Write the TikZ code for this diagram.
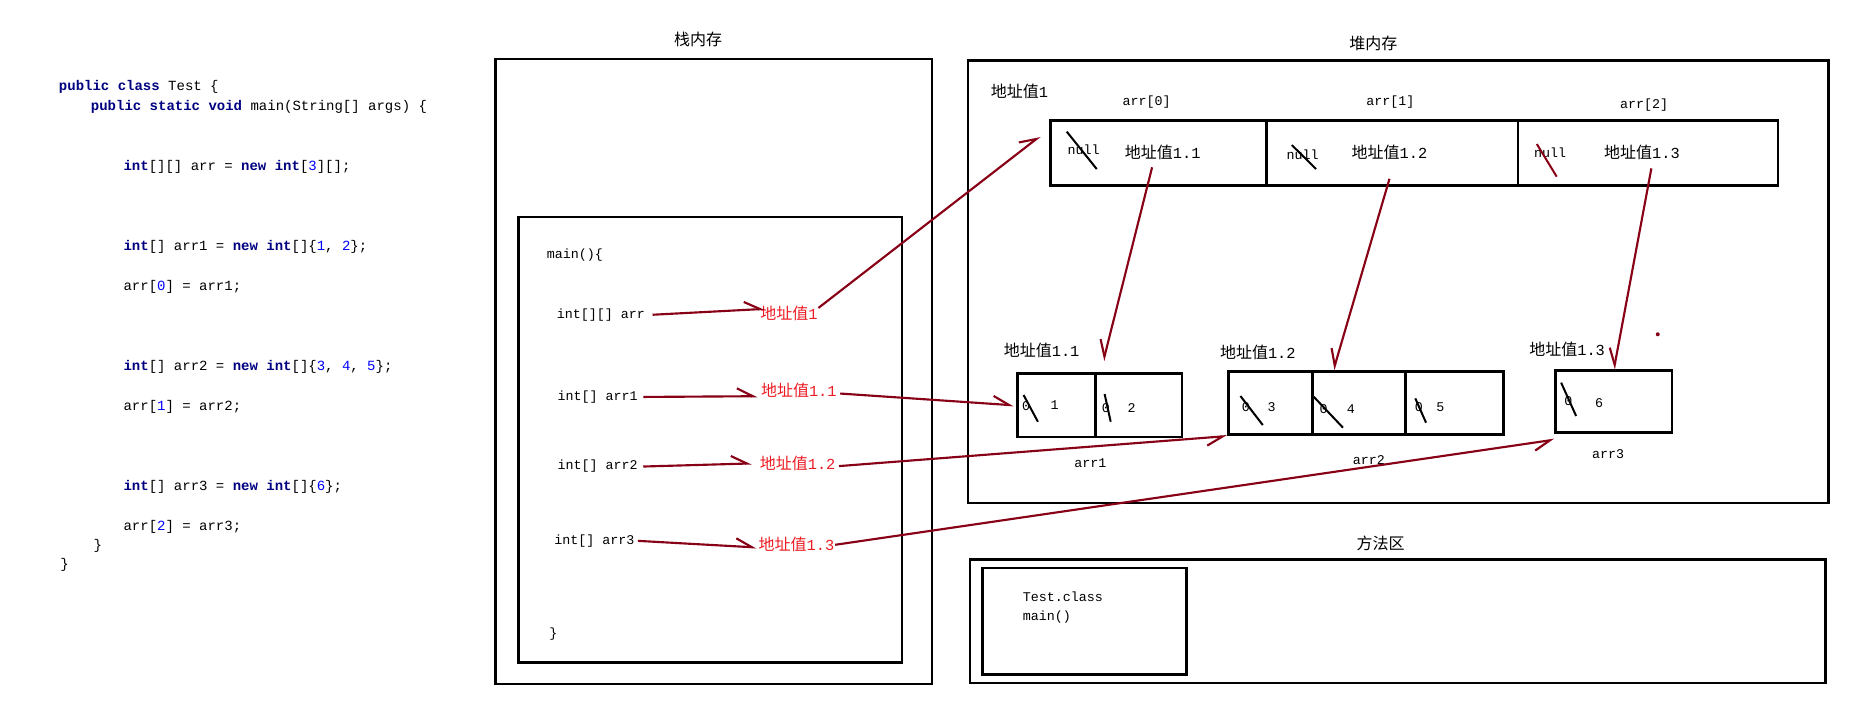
\documentclass[tikz,border=0pt]{standalone}
\usepackage{fontspec}
\setmainfont{Liberation Mono}
\newfontfamily\cjk{Noto Sans CJK SC}
\usetikzlibrary{arrows.meta}
\definecolor{PtrRed}{HTML}{880015}
\definecolor{AddrRed}{HTML}{ED1C24}
\definecolor{KwNavy}{HTML}{000080}
\definecolor{NumBlue}{HTML}{0000FF}
\newcommand{\px}{0.8935pt}
\newcommand{\kw}[1]{\textbf{\color{KwNavy}#1}}
\newcommand{\numv}[1]{{\color{NumBlue}#1}}
\newcommand{\addrval}[1]{{\cjk\fontsize{12}{14}\selectfont 地址值}{\fontsize{11.5}{14}\selectfont #1}}

\begin{document}
\begin{tikzpicture}[x=0.8935pt, y=-0.8935pt,
  cellbox/.style 2 args={draw, line width=2pt, inner sep=0pt, anchor=north west,
              minimum width=#1*\px, minimum height=#2*\px},
  code/.style={anchor=west, inner sep=0pt, font=\fontsize{10.5}{12}\selectfont},
  lbl/.style={anchor=west, inner sep=0.5pt, font=\fontsize{10}{12}\selectfont},
  addr/.style={lbl, text=AddrRed},
  ttl/.style={font=\cjk\fontsize{12}{14}\selectfont},
  slash/.style={line width=1.5pt},
  ptr/.style={draw=PtrRed, line width=1.6pt, -{Straight Barb[harpoon, length=12pt, width=12pt]}},
  ptrs/.style={ptr, -{Straight Barb[harpoon, swap, length=12pt, width=12pt]}}]
  \useasboundingbox (0,0) rectangle (1568,595);

  \node[code] (l1) at (49.3,72.8) {\kw{public class} Test \{};
  \node[code] (l2) at (76.1,89.5) {\kw{public static void} main(String[] args) \{};
  \node[code] (l3) at (103.5,139.9) {\kw{int}[][] arr = \kw{new} \kw{int}[\numv{3}][];};
  \node[code] (l4) at (103.5,207.1) {\kw{int}[] arr1 = \kw{new} \kw{int}[]\{\numv{1}, \numv{2}\};};
  \node[code] (l5) at (103.5,240.6) {arr[\numv{0}] = arr1;};
  \node[code] (l6) at (103.5,307.8) {\kw{int}[] arr2 = \kw{new} \kw{int}[]\{\numv{3}, \numv{4}, \numv{5}\};};
  \node[code] (l7) at (103.5,341.4) {arr[\numv{1}] = arr2;};
  \node[code] (l8) at (103.5,408.5) {\kw{int}[] arr3 = \kw{new} \kw{int}[]\{\numv{6}\};};
  \node[code] (l9) at (103.5,442.1) {arr[\numv{2}] = arr3;};
  \node[code] (l10) at (78.3,458) {\}};
  \node[code] (l11) at (50.4,474.3) {\}};

  \node[ttl] (stackT) at (586,33.2) {栈内存};
  \node[ttl] (heapT) at (1152.8,36.4) {堆内存};
  \node[ttl] (methT) at (1158.8,456) {方法区};

  \node[cellbox={366.5}{524.5}] (stack) at (414.7,48.5) {};
  \node[cellbox={321.7}{374}] (frame) at (434.3,181) {};
  \node[cellbox={722.5}{371.2}] (heap) at (811.4,49.8) {};
  \node[cellbox={718}{103.5}] (method) at (813,468.7) {};
  \node[cellbox={171}{89.5}] (cls) at (823.7,475.7) {};

  \node[lbl] (mainL) at (458.3,213.9) {main()\{};
  \node[lbl] (v0) at (466.7,264.2) {int[][] arr};
  \node[lbl] (v1) at (467.3,333.2) {int[] arr1};
  \node[lbl] (v2) at (467.3,391.6) {int[] arr2};
  \node[lbl] (v3) at (464.5,454) {int[] arr3};
  \node[lbl] (endL) at (460.3,532) {\}};
  \node[addr] (s0) at (637.4,263.2) {\addrval{1}};
  \node[addr] (s1) at (638,328.1) {\addrval{1.1}};
  \node[addr] (s2) at (637,389) {\addrval{1.2}};
  \node[addr] (s3) at (636,457.3) {\addrval{1.3}};

  \node[lbl] (hA) at (831,77) {\addrval{1}};
  \node[lbl, anchor=center] (i0) at (962.5,85.4) {arr[0]};
  \node[lbl, anchor=center] (i1) at (1167,86) {arr[1]};
  \node[lbl, anchor=center] (i2) at (1380,88.1) {arr[2]};
  \node[cellbox={181.3}{54.6}] (c0) at (880.8,99.9) {};
  \node[cellbox={211}{54.6}] (c1) at (1062.1,99.9) {};
  \node[cellbox={218.3}{54.6}] (c2) at (1273.1,99.9) {};
  \node[lbl] (n0) at (895.4,125.9) {null};
  \node[lbl] (n1) at (1079.2,130.1) {null};
  \node[lbl] (n2) at (1287,128.5) {null};
  \node[lbl] (h0) at (943.5,127.9) {\addrval{1.1}};
  \node[lbl] (h1) at (1133.8,128) {\addrval{1.2}};
  \node[lbl] (h2) at (1345.8,128.2) {\addrval{1.3}};

  \node[lbl] (p1) at (841.8,293.8) {\addrval{1.1}};
  \node[lbl] (p2) at (1023.3,296) {\addrval{1.2}};
  \node[lbl] (p3) at (1282.9,293.3) {\addrval{1.3}};
  \node[cellbox={65.3}{53.2}] (a10) at (853,312.5) {};
  \node[cellbox={72.8}{53.2}] (a11) at (918.3,312.5) {};
  \node[cellbox={70.3}{53.2}] (b0) at (1030,310.6) {};
  \node[cellbox={78.2}{53.2}] (b1) at (1100.3,310.6) {};
  \node[cellbox={82.5}{53.2}] (b2) at (1178.5,310.6) {};
  \node[cellbox={97.7}{51.8}] (d0) at (1304.7,310) {};
  \foreach \zx/\zy/\vx/\vy/\v [count=\i] in {861.3/340.8/885.3/340/1, 928.2/342.7/949.8/342.7/2,
      1045.7/341.9/1067.3/341.9/3, 1111/343.6/1134/343.6/4, 1191/341.9/1209.1/341.9/5,
      1316.5/336.6/1342.2/338/6} {
    \node[lbl, anchor=center] (z\i) at (\zx,\zy) {0};
    \node[lbl, anchor=center] (e\i) at (\vx,\vy) {\v};
  }
  \node[lbl, anchor=center] (r1) at (915.3,388.4) {arr1};
  \node[lbl, anchor=center] (r2) at (1149,386.1) {arr2};
  \node[lbl, anchor=center] (r3) at (1349.8,381.4) {arr3};

  \foreach \ax/\ay/\bx/\by in {895.4/110.5/920.6/141.9, 1084.3/121.7/1104.7/141.9,
      859.2/331.6/871.2/354, 927.2/330.7/932.3/354, 1041.2/332.4/1060/356.8,
      1102.7/333/1127.3/359, 1188/334.4/1197/354.8, 1310.4/321.2/1323/349.2}
    \draw[slash] (\ax,\ay) -- (\bx,\by);
  \draw[slash, PtrRed] (1290,120.9) -- (1306.7,148.3);
  \fill[PtrRed] (1391.5,280.6) circle (1.5pt);

  \node[lbl] (tc) at (857.9,500.9) {Test.class};
  \node[lbl] (tm) at (857.9,517.7) {main()};

  \draw[ptr] ([xshift=5pt]v0.east) -- ([xshift=4pt,yshift=3.5pt]s0.west);
  \draw[ptr] ([xshift=3.5pt]v1.east) -- ([xshift=-2pt,yshift=-4pt]s1.west);
  \draw[ptr] ([xshift=3.5pt]v2.east) -- ([xshift=-5.5pt]s2.west);
  \draw[ptr] ([xshift=2pt]v3.east) -- ([xshift=-1pt,yshift=-2pt]s3.west);

  \draw[ptr] ([yshift=-2pt]s0.north east) -- ([xshift=-7pt,yshift=12.5pt]c0.west);
  \draw[ptr] ([xshift=2pt,yshift=-2pt]s1.east) -- ([xshift=-2pt]a10.west);
  \draw[ptrs] ([xshift=2pt,yshift=-2pt]s2.east) -- (b0.south west);
  \draw[ptrs] (s3.east) -- ([yshift=-4.5pt]d0.south west);

  \draw[ptrs] ([xshift=-8pt,yshift=-5pt]h0.south) -- ([xshift=7pt,yshift=8.5pt]a11.north west);
  \draw[ptrs] ([yshift=-13.5pt]h1.south) -- ([xshift=17pt]b1.north west);
  \draw[ptrs] ([xshift=7pt,yshift=-5.5pt]h2.south) -- (d0.north);
\end{tikzpicture}
\end{document}
